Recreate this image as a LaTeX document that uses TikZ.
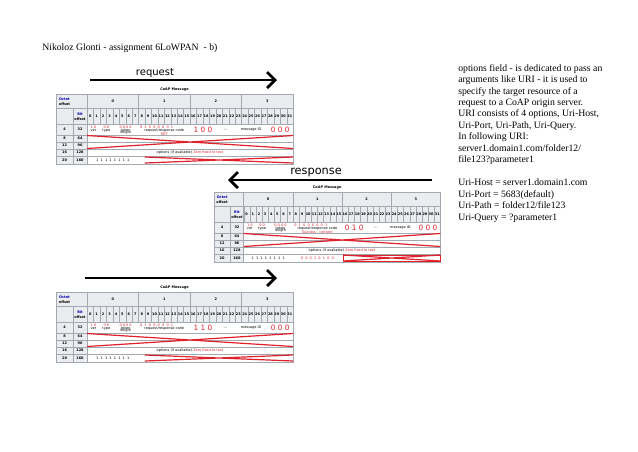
\documentclass[tikz,border=0pt]{standalone}
\usepackage{fontspec}
\setmainfont{Liberation Serif}
\newfontfamily\sansf{DejaVu Sans}
\usetikzlibrary{arrows.meta}
\definecolor{hdr}{HTML}{EAECF0}
\definecolor{grd}{HTML}{A2A9B1}
\definecolor{rd}{HTML}{E0202A}
\tikzset{
  tiny/.style={font=\sansf\fontsize{2.6}{3}\selectfont, inner sep=0pt},
  tinyb/.style={font=\sansf\bfseries\fontsize{2.6}{3}\selectfont, inner sep=0pt},
  bigred/.style={font=\sansf\fontsize{5.5}{6}\selectfont, text=rd, inner sep=0pt},
  cross/.style={draw=rd, line width=0.9pt},
  bigarrow/.style={line width=2pt, -{Straight Barb[length=6pt,width=12pt,line width=2pt]}},
  rtext/.style={anchor=north west, align=left, font=\fontsize{7.3}{8.6}\selectfont, inner sep=0pt}
}
% #1 big red digits, #2 code label, #3 extra
\newcommand\mycoaptab[3]{%
  \def\bw{6.4375}
  \node[tinyb] at (118.5,-4) {CoAP Message};
  \fill[hdr] (0,0) rectangle (237,30);
  \fill[hdr] (0,30) rectangle (31,70);
  \fill[white] (31,30) rectangle (237,70);
  \draw[grd, line width=0.2pt] (0,0) rectangle (237,70);
  \foreach \y in {14,30,41,48,55,62} \draw[grd, line width=0.2pt] (0,\y) -- (237,\y);
  \draw[grd, line width=0.2pt] (17,14) -- (17,70) (31,0) -- (31,70);
  \foreach \k in {1,2,3} \draw[grd, line width=0.2pt] ({31+8*\k*\bw},0) -- ({31+8*\k*\bw},14);
  \foreach \k in {0,...,3} \node[tinyb] at ({31+(8*\k+4)*\bw},7) {\k};
  \foreach \i in {0,...,31} {
    \draw[grd, line width=0.1pt] ({31+\i*\bw},14) -- ({31+\i*\bw},30);
    \node[tinyb] at ({31+(\i+0.5)*\bw},22) {\i};}
  \node[tinyb, text=blue!70!black] at (8.5,5) {Octet};
  \node[tinyb] at (8.5,10) {offset};
  \node[tinyb, text=blue!70!black] at (24,20) {Bit};
  \node[tinyb] at (24,25) {offset};
  \foreach \a/\b/\y in {4/32/35.5,8/64/44.5,12/96/51.5,16/128/58.5,20/160/66}
    {\node[tinyb] at (8.5,\y) {\a}; \node[tinyb] at (24,\y) {\b};}
  % row 4
  \node[tiny, text=rd] at ({31+1*\bw},33) {1 0};
  \node[tiny, text=rd] at ({31+3*\bw},33) {0 0};
  \node[tiny, text=rd] at ({31+6*\bw},33) {0 0 0 0};
  \node[tiny, text=rd, anchor=west] at ({31+8.2*\bw},33) {0 \ 1 \ 0 \ 0 \ 0 \ 0 \ 0 \ 1};
  \node[tiny] at ({31+1*\bw},37) {ver};
  \node[tiny] at ({31+3*\bw},37) {type};
  \node[tiny] at ({31+6*\bw},36) {token};
  \node[tiny] at ({31+6*\bw},39) {length};
  \node[tiny] at ({31+12*\bw},37) {request/response code};
  \node[tiny, text=rd] at ({31+12*\bw},40) {#2};
  \node[bigred] at ({31+18*\bw},35.5) {#1};
  \node[tiny] at ({31+21.5*\bw},35.5) {---};
  \node[tiny] at ({31+25.5*\bw},35.5) {message ID};
  \node[bigred] at ({31+30*\bw},35.5) {0 0 0};
  \node[tiny] at (134,58.5) {options (if available) \textcolor{rd}{Zero fixed to text}};
  \node[tiny] at ({31+4*\bw},66) {1 \ 1 \ 1 \ 1 \ 1 \ 1 \ 1 \ 1};
  \draw[cross] (31,41.5) -- (237,54.5) (31,54.5) -- (237,41.5);
  #3
}
\begin{document}
\begin{tikzpicture}[x=0.75pt,y=-0.75pt]
\useasboundingbox (0,0) rectangle (638,451);
\node[anchor=west, inner sep=0pt, font=\fontsize{7.3}{8.6}\selectfont] (title) at (42,48) {Nikoloz Glonti - assignment 6LoWPAN \ - b)};
\coordinate (a1s) at (90,80); \coordinate (a1e) at (277,80);
\draw[bigarrow] (a1s) -- (a1e);
\node[font=\sansf\fontsize{7.5}{9}\selectfont] (req) at (155,73) {request};
\coordinate (a2s) at (432,180); \coordinate (a2e) at (228,180);
\draw[bigarrow] (a2s) -- (a2e);
\node[font=\sansf\fontsize{8.5}{10}\selectfont] (resp) at (316,172) {response};
\coordinate (a3s) at (85,278); \coordinate (a3e) at (277,278);
\draw[bigarrow] (a3s) -- (a3e);
\begin{scope}[shift={(56,94)}]\mycoaptab{1 0 0}{GET}{\draw[cross] ({31+9*\bw},63) -- (237,69) ({31+9*\bw},69) -- (237,63);}\end{scope}
\begin{scope}[shift={(214,192)}, xscale=0.955]\mycoaptab{0 1 0}{Success - content}{%
  \node[tiny, text=rd] at ({31+12*\bw},66) {0 \ 0 \ 0 \ 1 \ 0 \ 1 \ 0 \ 0};
  \draw[cross, line width=0.6pt] ({31+16.2*\bw},63) rectangle (237,69);
  \draw[cross] ({31+16.2*\bw},63) -- (237,69) ({31+16.2*\bw},69) -- (237,63);}\end{scope}
\begin{scope}[shift={(56,292)}]\mycoaptab{1 1 0}{}{\draw[cross] ({31+9*\bw},63) -- (237,69) ({31+9*\bw},69) -- (237,63);}\end{scope}
\node[rtext] (desc) at (458,64) {options field - is dedicated to pass an\\arguments like URI - it is used to\\specify the target resource of a\\request to a CoAP origin server.\\URI consists of 4 options, Uri-Host,\\Uri-Port, Uri-Path, Uri-Query.\\In following URI:\\server1.domain1.com/folder12/\\file123?parameter1\\[8.6pt]Uri-Host = server1.domain1.com\\Uri-Port = 5683(default)\\Uri-Path = folder12/file123\\Uri-Query = ?parameter1};
\end{tikzpicture}
\end{document}
